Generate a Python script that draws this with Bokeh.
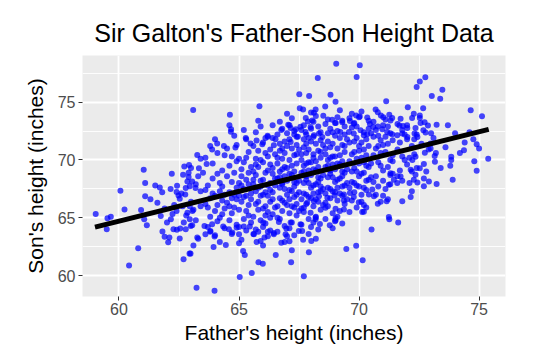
from bokeh.plotting import figure
from bokeh.models import FixedTicker
from bokeh.embed import file_html
from bokeh.resources import INLINE

# ---------------- data (father height, son height) ----------------
edge_left = [(59.03,65.33),(59.66,65.1),(59.52,64.96),(59.49,64.02),(60.42,60.88),(60.8,62.37),
    (61.16,64.36),(61.05,64.87),(60.06,67.35),(60.23,65.73),(60.92,65.67),(61.03,69.15),(61.09,68.01),
    (61.51,67.8),(61.7,67.63),(61.09,66.86),(61.31,66.61),(61.81,63.82),(61.9,63.36),(62.05,62.88),
    (62.27,64.02),(62.41,63.96),(62.55,64.08),(62.78,64.02),(62.53,63.22),(62.99,64.3),(62.95,64.87),
    (62.69,61.43),(62.94,61.91),(62.16,64.87),(62.15,67.5),(62.42,67.78),(62.4,67.24),(62.48,66.92),
    (62.53,66.64),(62.76,67.01),(62.65,66.01),(62.72,69.43),(62.92,69.57),(62.67,68.72),(62.9,68.52),
    (62.85,68.15),(62.95,67.72),(62.78,67.58),(62.23,65.33),(61.74,65.15),(62.85,65.44),(63.06,65.58),
    (62.95,66.01),(61.6,66.3),(61.9,65.8),(62.2,68.8),(62.3,66.1),(62.0,64.6),(61.8,67.2),(62.4,65.6),
    (62.1,63.3)]

edge_top = [(63.09,74.33),(64.62,73.9),(65.85,74.64),(64.67,72.65),(64.66,72.45),(65.28,71.9),
    (65.73,71.68),(66.19,72.1),(66.52,71.8),(66.76,72.6),(67.05,73.05),(67.15,72.76),(67.37,72.65),
    (67.51,75.67),(67.53,74.47),(67.3,72.2),(67.45,72.0),(63.26,70.43),(63.65,69.66),(63.33,69.29),
    (63.05,68.15),(63.19,67.58),(63.88,70.91),(64.09,71.43),(64.37,71.2),(64.85,71.08),(65.48,71.43),
    (65.97,71.37),(66.45,71.28),(67.15,71.56),
    (69.05,78.32),(70.03,78.18),(68.28,77.09),(69.9,77.18),(67.92,75.53),(68.81,75.64),(69.02,75.04),
    (71.13,75.07),(72.03,74.56),(68.59,74.62),(68.19,74.36),(68.12,74.08),(67.67,74.36),(67.78,73.62),
    (67.87,73.33),(68.05,73.42),(68.51,73.82),(68.88,73.48),(69.03,73.19),(69.3,73.27),(69.62,73.36),
    (69.78,73.14),(69.88,73.85),(70.03,73.76),(70.34,73.68),(70.69,74.36),(70.78,74.13),(70.91,73.85),
    (71.01,73.7),(71.26,73.9),(71.38,73.62),(71.31,73.42),(71.73,73.56),(71.68,72.99),(71.83,72.93),
    (72.01,72.76),(70.45,73.1),(70.59,72.85),(70.78,72.9),(70.97,72.65),(69.22,72.42),(69.58,72.42),
    (69.78,72.28),(70.06,72.56),(70.2,72.14),(70.34,72.22),(67.56,72.88),(67.77,72.42),(67.98,72.85),
    (68.12,72.14),(68.33,72.28),(68.47,71.99),(71.17,72.42),(71.38,72.22),(71.59,72.14),(71.8,72.28),
    (72.01,71.99)]

edge_right = [(72.76,77.15),(72.53,76.78),(72.4,76.3),(73.47,76.07),(73.03,75.53),(73.38,75.3),
    (72.67,74.47),(74.65,74.3),(75.12,73.79),(72.28,73.99),(72.21,73.62),(72.53,73.85),(72.53,73.62),
    (72.56,73.19),(72.73,73.27),(72.87,72.99),(73.23,73.05),(72.35,72.76),(72.31,72.28),(72.43,71.99),
    (72.68,72.56),(72.77,72.37),(74.76,71.8),(74.9,71.37),(74.37,70.85),(75.38,70.11),(74.9,69.06),
    (73.84,70.28),(73.84,70.0),(73.15,70.34),(73.16,69.85),(72.74,70.62),(72.7,69.66),(72.53,69.29),
    (72.98,71.43),(72.98,71.0),(72.35,70.28),(72.22,70.0),(72.15,69.15),(72.35,68.72),(72.28,68.29),
    (72.43,68.06),(72.91,68.15),(72.7,67.72),(73.23,67.92),(72.15,66.81),
    (72.6,71.4),(72.8,69.0),(73.0,72.3),(73.2,70.6),(72.7,68.4),(73.1,71.9),(73.4,69.3),(72.9,70.9),
    (73.6,71.1),(73.8,69.5),(74.0,72.3),(74.2,70.6),(73.7,73.0),(74.4,71.5),(73.9,68.3),
    (74.6,72.4),(75.0,71.0),(74.8,69.9)]

edge_bottom = [(71.31,68.86),(71.45,68.29),(71.73,68.57),(71.59,68.01),(71.24,67.86),(71.8,66.44),
    (71.15,66.44),(70.78,66.21),(70.2,65.53),(70.13,65.5),(71.24,65.07),(69.02,64.96),(69.37,65.73),
    (69.02,65.79),(68.6,65.87),(70.62,66.86),(70.41,67.01),(70.55,67.44),(69.37,66.5),(69.99,66.35),
    (69.78,66.81),(69.62,67.15),(69.37,67.01),(68.98,66.92),(68.68,66.73),(68.33,66.86),(68.12,66.44),
    (67.84,66.3),(67.98,65.44),(68.19,65.02),(67.7,65.87),
    (68.19,64.87),(68.37,64.47),(68.78,64.36),(69.02,64.79),(70.52,63.99),(71.26,64.87),(71.63,64.59),
    (67.63,63.87),(67.67,63.1),(68.01,62.99),(67.91,62.03),(69.47,62.31),(69.88,62.59),(70.15,61.34),
    (67.7,59.94),
    (63.23,58.95),(63.98,58.69),(65.03,59.89),(65.53,60.23),(65.81,61.17),(65.99,61.03),(67.17,61.17),
    (66.53,61.79),(65.17,62.14),(65.24,61.79),(62.98,61.91),(63.94,62.48),(64.45,62.65),(65.73,62.91),
    (66.06,63.31),(66.45,63.59),(66.76,62.85),(67.1,62.97),(66.94,63.59),(66.97,64.08),(63.26,63.31),
    (63.6,63.59),(63.98,63.39),(63.81,63.87),(63.88,64.44),(63.56,64.3),(63.05,64.36),(64.34,64.25),
    (64.58,64.02),(64.72,63.74),(64.9,64.16),(65.0,63.59),(65.2,64.25),(65.45,64.25),(65.62,63.59),
    (65.8,63.79),(66.01,64.59),(66.2,63.79),(66.45,63.68),(66.66,64.64),(67.15,64.59),(67.49,63.87),
    (67.56,64.44)]

core_63 = [(62.6,67.1),(62.8,65.2),(63.0,66.4),(63.2,67.9),(63.1,65.7),(63.3,68.6),(63.4,66.0),
    (62.9,68.9),(63.2,64.8),(63.4,70.1),(63.0,69.3),(63.3,63.2),(62.7,64.6),(63.1,62.6),(63.4,67.3)]

core_64 = [(63.6,66.2),(63.7,67.8),(63.8,65.1),(63.9,68.4),(64.0,66.9),(64.1,64.7),(64.2,67.3),
    (64.3,69.1),(64.4,65.8),(63.6,70.2),(63.8,66.7),(64.0,63.5),(64.2,68.0),(64.4,67.0),(63.7,64.2),
    (63.9,69.7),(64.1,66.1),(64.3,65.3),(64.5,68.6),(63.6,67.4),(63.8,71.2),(64.0,65.6),(64.2,62.9),
    (64.4,70.4),(63.9,67.1),(64.1,68.8),(64.3,66.5),(63.7,65.9),(64.0,71.8),(64.4,64.1),(63.5,68.9),
    (64.2,65.0),(64.5,66.3),(63.8,63.8),(64.1,70.6),(64.3,67.7)]

core_65 = [(64.6,67.2),(64.7,65.4),(64.8,68.9),(64.9,66.6),(65.0,70.1),(65.1,67.8),(65.2,64.9),
    (65.3,68.3),(65.4,66.1),(64.6,69.5),(64.7,63.6),(64.8,67.0),(64.9,71.3),(65.0,65.7),(65.1,69.2),
    (65.2,66.8),(65.3,63.9),(65.4,70.7),(64.6,66.0),(64.8,65.9),(65.0,68.0),(65.2,67.5),(65.4,68.9),
    (64.7,70.3),(64.9,64.4),(65.1,66.4),(65.3,71.8),(65.5,67.1),(64.6,64.8),(64.8,72.1),(65.0,66.9),
    (65.2,69.8),(65.4,65.2),(64.7,68.1),(64.9,67.6),(65.1,63.1),(65.3,66.9),(65.5,69.4),(64.5,71.0),
    (65.0,64.2),(65.2,72.6),(65.4,67.9),(64.7,66.7),(65.1,68.6),(65.3,65.6),(64.9,69.9),(65.5,64.6),
    (64.6,73.0),(65.3,70.2),(65.0,62.8)]

core_66 = [(65.6,67.9),(65.7,66.2),(65.8,69.4),(65.9,64.8),(66.0,68.3),(66.1,70.6),(66.2,66.9),
    (66.3,67.4),(66.4,65.3),(65.6,71.2),(65.7,68.7),(65.8,66.4),(65.9,70.0),(66.0,65.8),(66.1,67.2),
    (66.2,69.1),(66.3,63.9),(66.4,68.8),(65.6,65.1),(65.7,72.4),(65.8,67.6),(65.9,68.2),(66.0,71.5),
    (66.1,64.5),(66.2,67.8),(66.3,70.9),(66.4,66.6),(65.6,69.0),(65.7,64.0),(65.8,70.8),(65.9,66.9),
    (66.0,67.0),(66.1,68.9),(66.2,63.4),(66.3,69.6),(66.4,71.9),(65.5,66.6),(65.7,70.1),(65.9,72.9),
    (66.1,66.0),(66.3,65.0),(66.5,68.4),(65.6,63.6),(65.8,65.7),(66.0,69.8),(66.2,72.0),(66.4,67.2),
    (65.7,67.3),(65.9,63.0),(66.1,71.9),(66.3,68.0),(66.5,65.9),(65.6,68.3),(65.8,73.4),(66.0,64.2),
    (66.2,70.3),(66.4,69.3),(65.9,67.7),(66.1,65.2),(66.3,66.4),(65.7,69.6),(66.5,70.5),(66.0,62.6),
    (66.2,65.5),(66.4,73.0)]

core_67 = [(66.6,68.4),(66.7,66.7),(66.8,70.1),(66.9,67.5),(67.0,69.3),(67.1,65.4),(67.2,71.0),
    (67.3,68.1),(67.4,66.2),(66.6,72.2),(66.7,69.0),(66.8,65.6),(66.9,71.6),(67.0,67.0),(67.1,68.8),
    (67.2,64.6),(67.3,70.4),(67.4,69.7),(66.6,66.0),(66.7,71.4),(66.8,67.9),(66.9,64.3),(67.0,72.3),
    (67.1,70.0),(67.2,67.3),(67.3,65.9),(67.4,72.0),(66.6,70.2),(66.7,64.9),(66.8,69.2),(66.9,68.6),
    (67.0,66.1),(67.1,73.0),(67.2,69.5),(67.3,66.8),(67.4,68.0),(66.5,67.8),(66.7,73.3),(66.9,66.3),
    (67.1,67.4),(67.3,63.5),(67.5,70.9),(66.6,63.8),(66.8,72.7),(67.0,68.2),(67.2,66.0),(67.4,71.3),
    (66.7,67.6),(66.9,70.6),(67.1,64.1),(67.3,69.0),(67.5,67.2),(66.6,69.7),(66.8,66.5),(67.0,71.2),
    (67.2,73.6),(67.4,65.2),(66.7,68.5),(66.9,62.9),(67.1,71.8),(67.3,67.7),(67.5,65.6),(66.6,65.0),
    (66.8,68.0),(67.0,63.4),(67.2,68.7),(67.4,70.5),(66.9,69.4),(67.1,66.6),(67.3,72.5),(66.7,70.8),
    (67.0,74.0),(67.2,62.2),(67.4,67.0),(66.8,71.0)]

core_68 = [(67.6,68.9),(67.7,67.1),(67.8,70.6),(67.9,68.0),(68.0,69.8),(68.1,66.0),(68.2,71.4),
    (68.3,68.5),(68.4,67.3),(67.6,72.6),(67.7,69.5),(67.8,66.2),(67.9,71.9),(68.0,67.6),(68.1,69.2),
    (68.2,65.1),(68.3,70.8),(68.4,70.2),(67.6,66.6),(67.7,71.8),(67.8,68.3),(67.9,64.9),(68.0,72.7),
    (68.1,70.5),(68.2,67.9),(68.3,66.4),(68.4,72.4),(67.6,70.5),(67.7,65.5),(67.8,69.7),(67.9,69.1),
    (68.0,66.7),(68.1,73.3),(68.2,69.9),(68.3,67.2),(68.4,68.4),(67.5,68.2),(67.7,73.0),(67.9,66.8),
    (68.1,67.8),(68.3,64.0),(68.5,71.3),(67.6,64.4),(67.8,72.2),(68.0,68.7),(68.2,66.6),(68.4,71.7),
    (67.7,68.0),(67.9,70.9),(68.1,64.6),(68.3,69.4),(68.5,67.5),(67.6,70.0),(67.8,67.0),(68.0,71.6),
    (68.2,73.8),(68.4,65.7),(67.7,69.0),(67.9,63.6),(68.1,72.0),(68.3,68.1),(68.5,66.1),(67.6,65.8),
    (67.8,68.6),(68.0,64.2),(68.2,69.1),(68.4,70.7),(67.9,69.8),(68.1,67.1),(68.3,72.9),(67.7,71.1),
    (68.0,74.1),(68.2,63.2),(68.4,67.7),(67.8,71.4),(68.1,70.2)]

core_69 = [(68.6,69.4),(68.7,67.6),(68.8,71.1),(68.9,68.5),(69.0,70.3),(69.1,66.5),(69.2,71.9),
    (69.3,69.0),(69.4,67.8),(68.6,73.1),(68.7,70.0),(68.8,66.7),(68.9,72.4),(69.0,68.1),(69.1,69.7),
    (69.2,65.6),(69.3,71.3),(69.4,70.7),(68.6,67.1),(68.7,72.3),(68.8,68.8),(68.9,65.4),(69.0,73.2),
    (69.1,71.0),(69.2,68.4),(69.3,66.9),(69.4,72.9),(68.6,71.0),(68.7,66.0),(68.8,70.2),(68.9,69.6),
    (69.0,67.2),(69.1,73.7),(69.2,70.4),(69.3,67.7),(69.4,68.9),(68.5,68.7),(68.7,73.5),(68.9,67.3),
    (69.1,68.3),(69.3,64.5),(69.5,71.8),(68.6,64.9),(68.8,72.7),(69.0,69.2),(69.2,67.1),(69.4,72.2),
    (68.7,68.5),(68.9,71.4),(69.1,65.1),(69.3,69.9),(69.5,68.0),(68.6,70.5),(68.8,67.5),(69.0,72.1),
    (69.2,74.3),(69.4,66.2),(68.7,69.5),(68.9,64.1),(69.1,72.5),(69.3,68.6),(69.5,66.6),(68.6,66.3),
    (68.8,69.1),(69.0,64.7),(69.2,69.6),(69.4,71.2),(68.9,70.3),(69.1,67.6),(69.3,73.4),(68.7,71.6)]

core_70 = [(69.6,69.9),(69.7,68.1),(69.8,71.6),(69.9,69.0),(70.0,70.8),(70.1,67.0),(70.2,72.4),
    (70.3,69.5),(70.4,68.3),(69.6,73.6),(69.7,70.5),(69.8,67.2),(69.9,72.9),(70.0,68.6),(70.1,70.2),
    (70.2,66.1),(70.3,71.8),(70.4,71.2),(69.6,67.6),(69.7,72.8),(69.8,69.3),(69.9,65.9),(70.0,73.7),
    (70.1,71.5),(70.2,68.9),(70.3,67.4),(70.4,73.4),(69.6,71.5),(69.7,66.5),(69.8,70.7),(69.9,70.1),
    (70.0,67.7),(70.1,74.2),(70.2,70.9),(70.3,68.2),(70.4,69.4),(69.5,69.2),(69.7,74.0),(69.9,67.8),
    (70.1,68.8),(70.3,65.9),(70.5,72.3),(69.6,65.5),(69.8,73.2),(70.0,69.7),(70.2,67.6),(70.4,72.7),
    (69.7,69.0),(69.9,71.9),(70.1,66.4),(70.3,70.4),(70.5,68.5),(69.8,68.0),(70.0,71.2),(70.2,69.8)]

core_71 = [(70.6,70.4),(70.7,68.6),(70.8,72.1),(70.9,69.5),(71.0,71.3),(71.1,67.5),(71.2,72.9),
    (71.3,70.0),(71.4,68.8),(70.6,73.3),(70.7,71.0),(70.8,67.7),(70.9,71.7),(71.0,69.1),(71.1,70.7),
    (71.2,66.6),(71.3,72.3),(71.4,71.7),(70.6,68.1),(70.7,72.6),(70.8,69.8),(70.9,66.4),(71.0,73.0),
    (71.1,72.0),(71.2,69.4),(71.3,67.9),(71.4,70.4),(70.6,72.0),(70.7,67.0),(70.8,71.2),(70.9,70.6),
    (71.0,68.2),(71.1,73.5),(71.2,71.4),(71.3,68.7),(71.4,69.9),(70.5,69.7),(71.0,66.9)]

core_72 = [(71.6,70.9),(71.7,69.1),(71.8,72.6),(71.9,70.0),(72.0,71.8),(72.1,68.0),(72.2,71.2),
    (72.3,70.5),(72.4,69.3),(71.6,73.1),(71.7,71.5),(71.8,68.2),(71.9,72.2),(72.0,69.6),(72.1,70.2),
    (72.2,67.3),(72.3,71.8),(72.4,72.2),(71.6,68.6),(71.8,70.3),(72.0,73.0),(72.2,69.0)]

# regression line end points (least-squares fit shown in the chart)
fit_father = [59.0, 75.4]
fit_son = [64.2, 72.65]

x_ticks = [60, 65, 70, 75]
x_minor = [57.5, 62.5, 67.5, 72.5, 77.5]
y_ticks = [60, 65, 70, 75]
y_minor = [57.5, 62.5, 67.5, 72.5, 77.5]

all_pairs = (edge_left + edge_top + edge_right + edge_bottom + core_63 + core_64 + core_65 +
             core_66 + core_67 + core_68 + core_69 + core_70 + core_71 + core_72)
father = [f for f, s in all_pairs]
son = [s for f, s in all_pairs]

# ---------------- figure ----------------
FONT = "Liberation Sans"
p = figure(width=536, height=362, x_range=(58.48, 76.1), y_range=(58.2, 79.03),
           output_backend="svg", toolbar_location=None,
           min_border_left=82, min_border_right=31, min_border_top=55, min_border_bottom=66)
p.background_fill_color = "#EBEBEB"
p.border_fill_color = "white"
p.outline_line_color = None

p.title.text = "Sir Galton's Father-Son Height Data"
p.title.align = "center"
p.title.text_font = FONT
p.title.text_font_size = "25px"
p.title.text_font_style = "normal"
p.title.text_color = "black"
p.title.standoff = 17

xt = FixedTicker(ticks=x_ticks, minor_ticks=x_minor)
yt = FixedTicker(ticks=y_ticks, minor_ticks=y_minor)
p.xaxis.ticker = xt
p.yaxis.ticker = yt
p.xgrid.ticker = xt
p.ygrid.ticker = yt

for g in (p.xgrid, p.ygrid):
    g.grid_line_color = "white"
    g.grid_line_width = 1.8
    g.minor_grid_line_color = "white"
    g.minor_grid_line_width = 0.9

for ax in (p.xaxis, p.yaxis):
    ax.axis_line_color = None
    ax.major_tick_in = 0
    ax.major_tick_out = 4
    ax.major_tick_line_color = "#333333"
    ax.major_tick_line_width = 1
    ax.minor_tick_in = 0
    ax.minor_tick_out = 0
    ax.major_label_text_font = FONT
    ax.major_label_text_font_size = "16px"
    ax.major_label_text_color = "#4D4D4D"
    ax.major_label_standoff = 3
    ax.axis_label_text_font = FONT
    ax.axis_label_text_font_size = "21px"
    ax.axis_label_text_font_style = "normal"
    ax.axis_label_text_color = "black"

p.xaxis.major_label_standoff = 2
p.xaxis.axis_label = "Father's height (inches)"
p.yaxis.axis_label = "Son's height (inches)"
p.xaxis.axis_label_standoff = 3
p.yaxis.axis_label_standoff = 8

p.scatter(father, son, size=6, fill_color="blue", fill_alpha=0.72, line_color=None)
p.line(fit_father, fit_son, line_color="black", line_width=5)

open("out.html", "w").write(file_html(p, INLINE))
